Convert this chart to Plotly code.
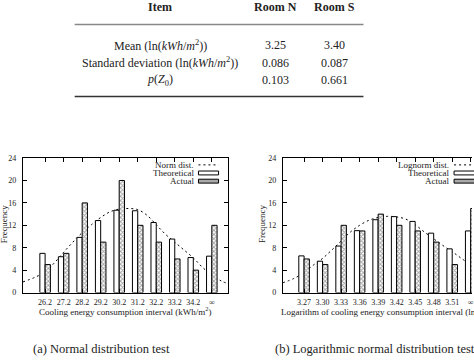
import plotly.graph_objects as go

W, H = 474, 360

# ---------------- data ----------------
table_header = ["Item", "Room N", "Room S"]
table_items = [
    "Mean (ln(<i>kWh</i>/<i>m</i><sup>2</sup>))",
    "Standard deviation (ln(<i>kWh</i>/<i>m</i><sup>2</sup>))",
    "<i>p</i>(<i>Z</i><sub>0</sub>)",
]
room_n = ["3.25", "0.086", "0.103"]
room_s = ["3.40", "0.087", "0.661"]

categories_a = ["26.2", "27.2", "28.2", "29.2", "30.2", "31.2", "32.2", "33.2", "34.2", "∞"]
theoretical_a = [7.0, 6.4, 9.85, 12.85, 14.7, 14.6, 12.5, 9.55, 6.25, 6.5]
actual_a = [5, 7, 16, 9, 20, 12, 9, 6, 4, 12]
norm_curve_x = [-1.2, -0.5, 0, 0.5, 1, 1.5, 2, 2.5, 3, 3.5, 4, 4.5, 5, 5.5, 6, 6.5, 7, 7.5, 8, 8.5, 9, 9.5, 9.86]
norm_curve_y = [1.9, 2.8, 3.7, 5.3, 7.2, 9.0, 10.7, 12.1, 13.4, 14.4, 14.9, 15.0, 14.8, 13.8, 12.1, 10.4, 9.0, 7.6, 6.2, 4.5, 3.1, 2.1, 1.6]

categories_b = ["3.27", "3.30", "3.33", "3.36", "3.39", "3.42", "3.45", "3.48", "3.51", "∞"]
theoretical_b = [6.55, 5.6, 8.3, 11.05, 13.0, 13.55, 12.7, 10.6, 7.8, 11.0]
actual_b = [6, 5, 12, 11, 14, 12, 11, 9, 5, 15]
lognorm_curve_x = [-1.15, -0.5, 0, 0.5, 1, 1.5, 2, 2.5, 3, 3.5, 4, 4.5, 5, 5.5, 6, 6.5, 7, 7.5, 8, 8.5, 9.07]
lognorm_curve_y = [1.75, 2.6, 3.6, 4.9, 6.1, 7.6, 9.2, 10.8, 12.0, 12.9, 13.4, 13.6, 13.5, 13.1, 12.1, 10.8, 9.6, 8.4, 7.3, 6.1, 4.8]

y_ticks = [0, 4, 8, 12, 16, 20, 24]

# ---------------- helpers ----------------
def px(x):
    return x / W

def py(y):
    return 1 - y / H

FONT = "Liberation Serif"
BAR_W = 0.285
ydom = [py(296), py(158)]

fig = go.Figure()

# curves on base axes (drawn underneath the bars)
curve_line = dict(color="black", width=1, dash="2px,3px", shape="spline")
fig.add_trace(go.Scatter(x=norm_curve_x, y=norm_curve_y, mode="lines", line=curve_line,
                         xaxis="x", yaxis="y", showlegend=False, hoverinfo="skip"))
fig.add_trace(go.Scatter(x=lognorm_curve_x, y=lognorm_curve_y, mode="lines", line=curve_line,
                         xaxis="x2", yaxis="y2", showlegend=False, hoverinfo="skip"))

theo_marker = dict(color="white", line=dict(color="black", width=1))
act_marker = dict(color="white", line=dict(color="black", width=1),
                  pattern=dict(shape="x", size=3, solidity=0.5, fgcolor="#444", bgcolor="white"))

for cats, theo, act, xa, ya in [(categories_a, theoretical_a, actual_a, "x3", "y3"),
                                 (categories_b, theoretical_b, actual_b, "x4", "y4")]:
    fig.add_trace(go.Bar(x=cats, y=theo, width=BAR_W, offset=-BAR_W, marker=theo_marker,
                         xaxis=xa, yaxis=ya, showlegend=False))
    fig.add_trace(go.Bar(x=cats, y=act, width=BAR_W, offset=0, marker=act_marker,
                         xaxis=xa, yaxis=ya, showlegend=False))

xr_a = [-1.2, 9.86]
xr_b = [-1.15, 9.07]

hidden = dict(visible=False, showgrid=False, zeroline=False)
common_x = dict(type="category", showline=True, linecolor="black", linewidth=1,
                ticks="inside", ticklen=4, tickcolor="black", showgrid=False, zeroline=False,
                tickfont=dict(family=FONT, size=8, color="#222"), ticklabelstandoff=2)
common_y = dict(range=[0, 24], tickvals=y_ticks, showline=True, linecolor="black", linewidth=1,
                ticks="inside", ticklen=4, tickcolor="black", showgrid=False, zeroline=False,
                tickfont=dict(family=FONT, size=8, color="#222"), ticklabelstandoff=4)

fig.update_layout(
    width=W, height=H, margin=dict(l=0, r=0, t=0, b=0),
    paper_bgcolor="white", plot_bgcolor="rgba(0,0,0,0)",
    barmode="overlay", showlegend=False,
    font=dict(family=FONT, color="#222"),
    xaxis=dict(domain=[px(23), px(228.7)], range=xr_a, anchor="y", **hidden),
    yaxis=dict(domain=ydom, range=[0, 24], anchor="x", **hidden),
    xaxis2=dict(domain=[px(284), 1], range=xr_b, anchor="y2", **hidden),
    yaxis2=dict(domain=ydom, range=[0, 24], anchor="x2", **hidden),
    xaxis3=dict(overlaying="x", range=xr_a, anchor="y3", mirror="ticks", **common_x),
    yaxis3=dict(overlaying="y", anchor="x3", mirror="ticks", **common_y),
    xaxis4=dict(overlaying="x2", range=xr_b, anchor="y4", mirror="ticks", **common_x),
    yaxis4=dict(overlaying="y2", anchor="x4", mirror=False, **common_y),
)

ann = []
def text(x, y, s, size, xanchor="center", angle=0, color="#222"):
    ann.append(dict(x=px(x), y=py(y), xref="paper", yref="paper", text=s, showarrow=False,
                    xanchor=xanchor, yanchor="middle", textangle=angle, borderpad=0,
                    font=dict(family=FONT, size=size, color=color)))

# table
col_x = [161, 277, 336]
for cx, h in zip(col_x, table_header):
    text(cx, 3.5, "<b>" + h + "</b>", 12)
row_y = [42.5, 60.5, 78]
for ry, it, n, s in zip(row_y, table_items, room_n, room_s):
    text(col_x[0], ry, it, 12)
    text(col_x[1], ry, n, 12)
    text(col_x[2], ry, s, 12)

shapes = [
    dict(type="line", xref="paper", yref="paper", x0=px(75), x1=px(365), y0=py(21), y1=py(21),
         line=dict(color="#888", width=1.3)),
    dict(type="line", xref="paper", yref="paper", x0=px(75), x1=px(365), y0=py(94.8), y1=py(94.8),
         line=dict(color="#333", width=1.6)),
]

# axis titles
text(126, 315, "Cooling energy consumption interval (kWh/m<sup>2</sup>)", 9)
text(280.7, 315, "Logarithm of cooling energy consumption interval (ln(kWh/m<sup>2</sup>))", 9, xanchor="left")
text(3.5, 225.5, "Frequency", 9, angle=-90)
text(263.3, 225.5, "Frequency", 9, angle=-90)

# captions
text(102, 354, "(a) Normal distribution test", 12.5)
text(377, 354, "(b) Logarithmic normal distribution test", 12.5)

# legends
for tx, sx0, sx1, lbl in [(196, 199.3, 219.5, "Norm dist."), (451.7, 456, 477, "Lognorm dist.")]:
    text(tx, 165, lbl, 9, xanchor="right")
    text(tx, 173.3, "Theoretical", 9, xanchor="right")
    text(tx, 181.7, "Actual", 9, xanchor="right")
    shapes.append(dict(type="line", xref="paper", yref="paper", x0=px(sx0), x1=px(sx1),
                       y0=py(165), y1=py(165), line=dict(color="black", width=1, dash="2px,3px")))
    shapes.append(dict(type="rect", xref="paper", yref="paper", x0=px(sx0), x1=px(sx1),
                       y0=py(175.3), y1=py(171.3), fillcolor="white", line=dict(color="black", width=1)))
    shapes.append(dict(type="rect", xref="paper", yref="paper", x0=px(sx0), x1=px(sx1),
                       y0=py(183.7), y1=py(179.7), fillcolor="#aaa", line=dict(color="black", width=1)))

fig.update_layout(annotations=ann, shapes=shapes)
fig.write_html("out.html", config={"displayModeBar": False},
               post_script="document.body.style.margin='0';document.body.style.overflow='hidden';")
